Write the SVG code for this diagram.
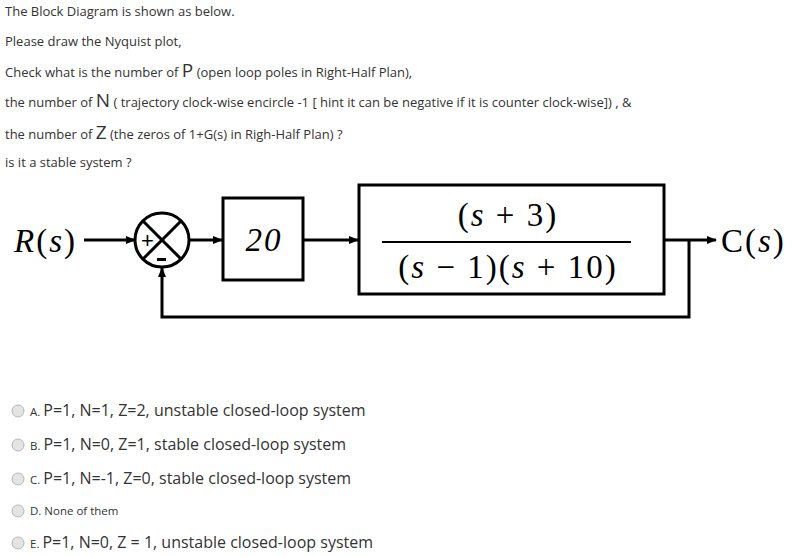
<svg xmlns="http://www.w3.org/2000/svg" width="798" height="557" viewBox="0 0 798 557">
<style>
.q{font-family:"Open Sans",sans-serif;font-size:13px;fill:#333}
.big{font-size:19px}
.o{font-family:"Open Sans",sans-serif;font-size:16px;fill:#333}
.ol{font-size:11.5px}
.m{font-family:"Liberation Serif",serif;font-size:33px;fill:#000;letter-spacing:2px}
.ln{stroke:#000;stroke-width:3;fill:none}
.r{fill:#e4e4e4;stroke:#b5b5b5;stroke-width:1}
</style>
<defs><marker id="a" markerWidth="10" markerHeight="8" refX="9" refY="4" orient="auto" markerUnits="userSpaceOnUse"><path d="M0,0L10,4L0,8z"/></marker></defs>
<rect width="798" height="557" fill="#fff"/>
<g id="question">
<text class="q" x="5" y="16">The Block Diagram is shown as below.</text>
<text class="q" x="5" y="46">Please draw the Nyquist plot,</text>
<text class="q" x="5" y="77">Check what is the number of <tspan class="big">P</tspan> (open loop poles in Right-Half Plan),</text>
<text class="q" x="5" y="107">the number of <tspan class="big">N</tspan> ( trajectory  clock-wise encircle -1 [ hint it can be negative if it is counter clock-wise]) , &amp;</text>
<text class="q" x="5" y="139">the number of <tspan class="big">Z</tspan> (the zeros of  1+G(s) in Righ-Half Plan) ?</text>
<text class="q" x="5" y="167">is it a stable system ?</text>
</g>
<g id="R"><text class="m" x="14" y="252" font-style="italic" letter-spacing="4">R<tspan font-style="normal">(</tspan>s<tspan font-style="normal">)</tspan></text></g>
<g id="sum">
<circle cx="162" cy="240" r="27" class="ln"/>
<path class="ln" d="M143,221L181,259M181,221L143,259"/>
<text x="141" y="248" font-family="Liberation Sans,sans-serif" font-size="22" fill="#000">+</text>
<rect x="157" y="258" width="9" height="3" fill="#000"/>
</g>
<g id="k"><rect x="223" y="198" width="80" height="82" class="ln"/><text class="m" x="264" y="251" text-anchor="middle" font-style="italic" letter-spacing="0">20</text></g>
<g id="G"><rect x="359" y="185" width="305" height="109" class="ln"/>
<text class="m" x="508" y="226" text-anchor="middle">(<tspan font-style="italic">s</tspan> + 3)</text>
<line x1="382" y1="242" x2="631" y2="242" stroke="#000" stroke-width="2"/>
<text class="m" x="508" y="278" text-anchor="middle">(<tspan font-style="italic">s</tspan> − 1)(<tspan font-style="italic">s</tspan> + 10)</text>
</g>
<g id="C"><text class="m" x="721" y="252">C(<tspan font-style="italic">s</tspan>)</text></g>
<g id="connectors" class="ln">
<path d="M84,240H135" marker-end="url(#a)"/>
<path d="M189,240H222" marker-end="url(#a)"/>
<path d="M303,240H358" marker-end="url(#a)"/>
<path d="M664,240H716" marker-end="url(#a)"/>
<path d="M689,240V317H162V268" marker-end="url(#a)"/>
</g>
<g id="options">
<circle class="r" cx="18" cy="411" r="6"/><text class="o" x="30" y="416"><tspan class="ol">A. </tspan>P=1, N=1, Z=2, unstable closed-loop system</text>
<circle class="r" cx="18" cy="445" r="6"/><text class="o" x="30" y="450"><tspan class="ol">B. </tspan>P=1, N=0, Z=1, stable closed-loop system</text>
<circle class="r" cx="18" cy="479" r="6"/><text class="o" x="30" y="484"><tspan class="ol">C. </tspan>P=1, N=-1, Z=0, stable closed-loop system</text>
<circle class="r" cx="18" cy="511" r="6"/><text class="o ol" x="30" y="515">D. None of them</text>
<circle class="r" cx="18" cy="543" r="6"/><text class="o" x="30" y="548"><tspan class="ol">E. </tspan>P=1, N=0, Z = 1, unstable closed-loop system</text>
</g>
</svg>
